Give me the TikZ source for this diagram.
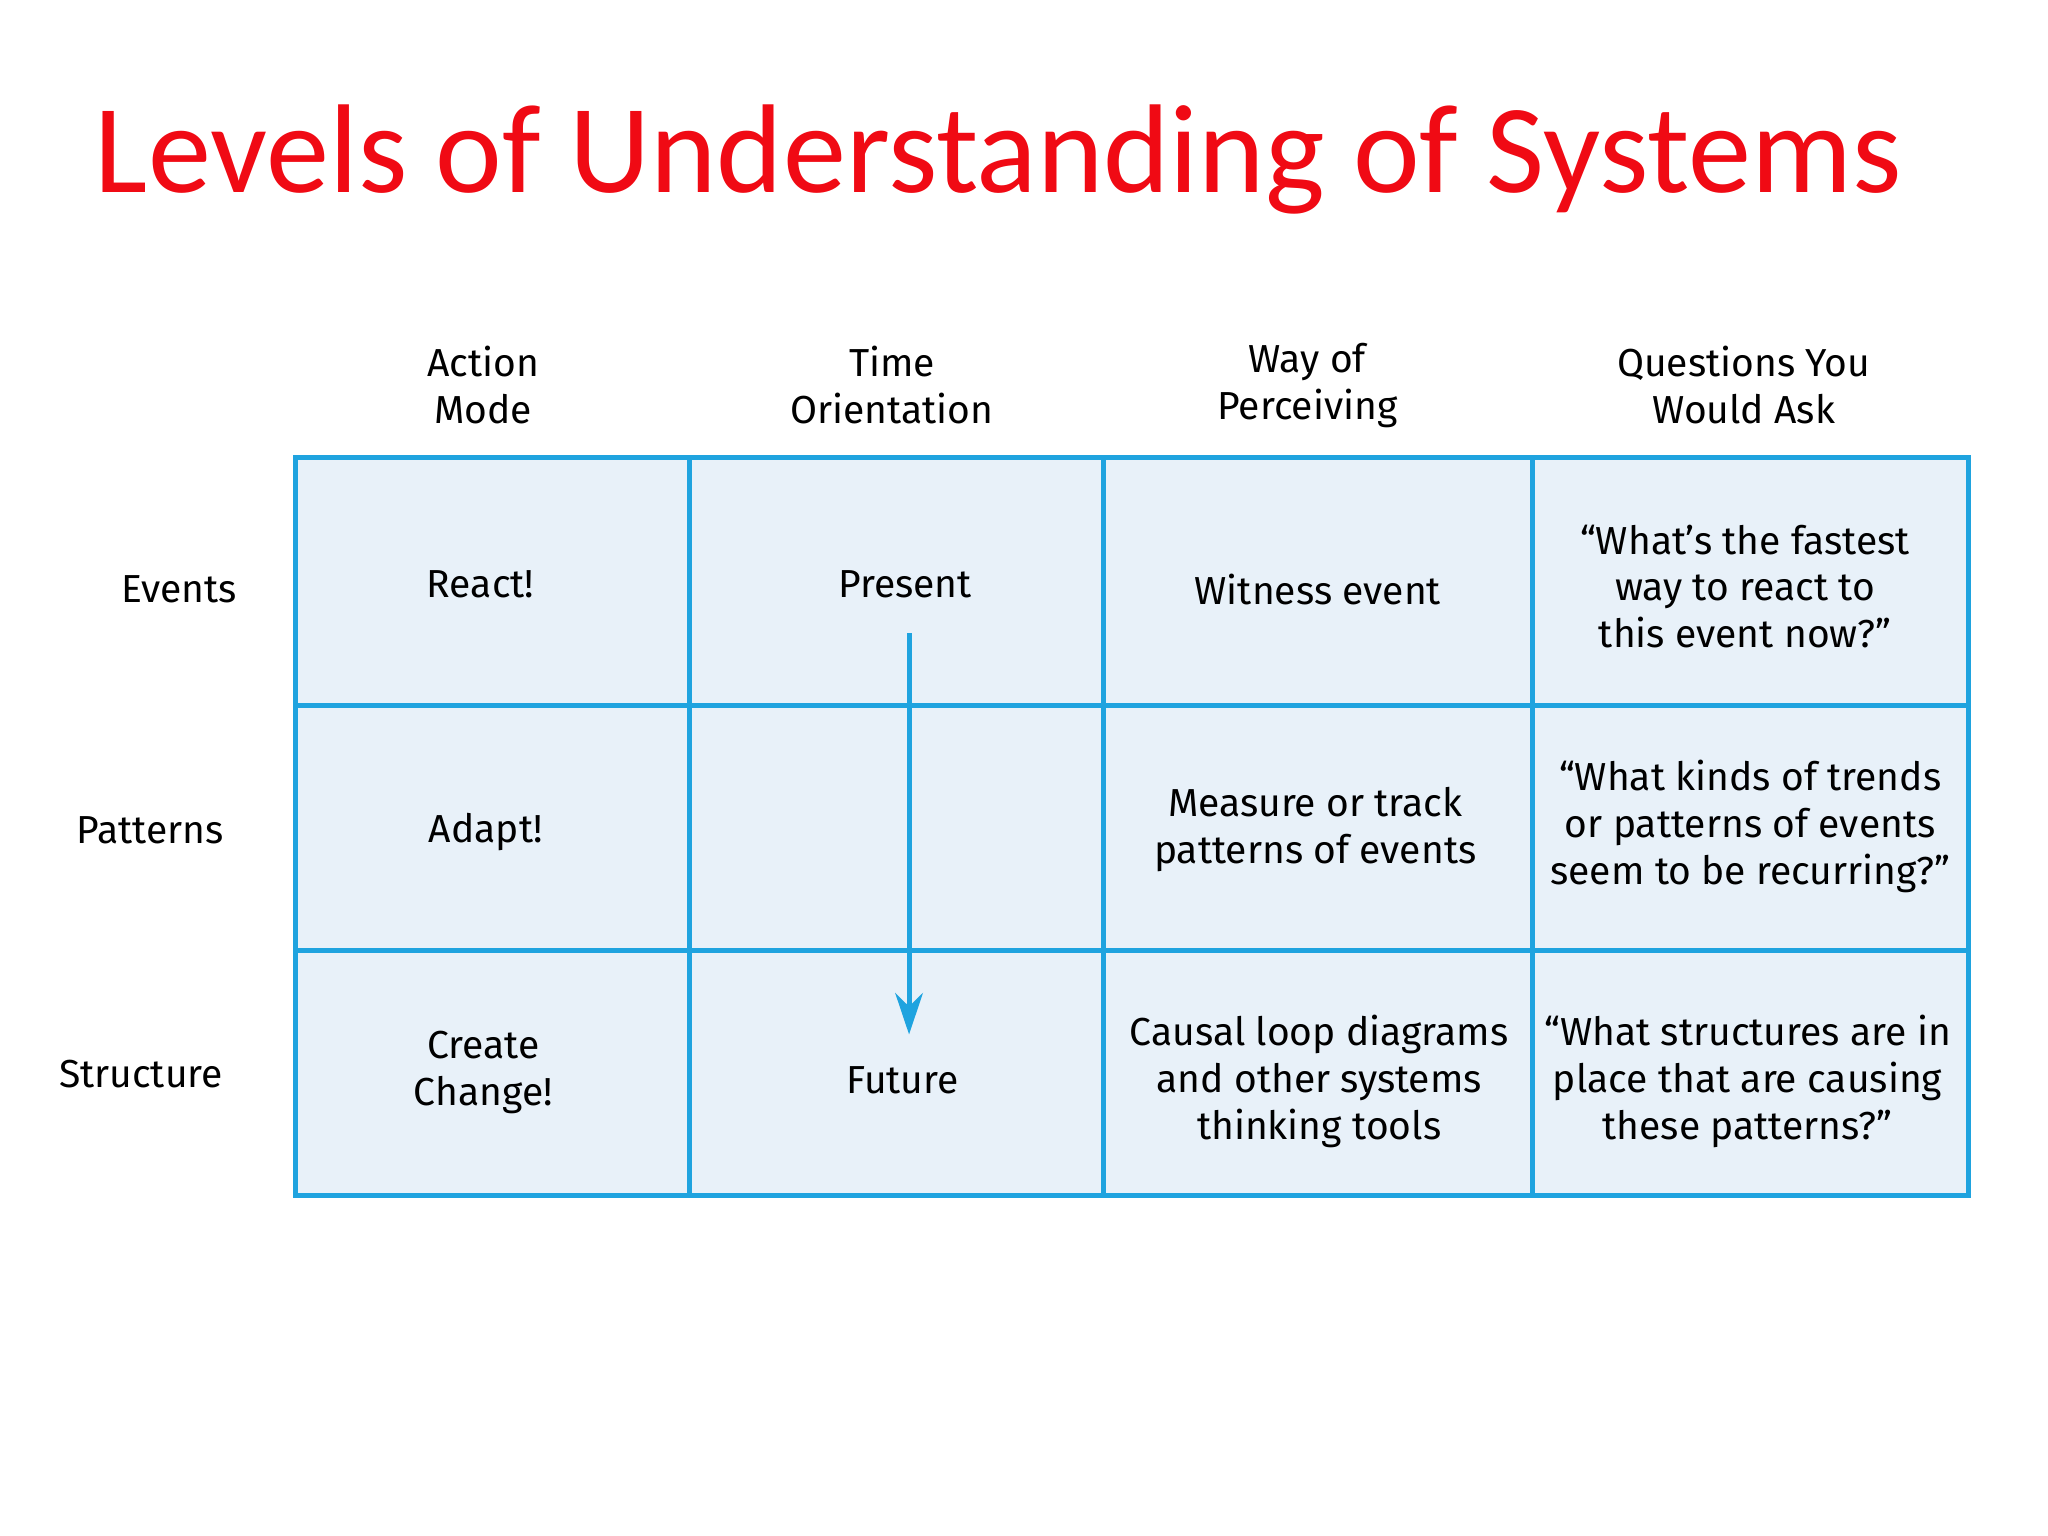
\documentclass[tikz,border=0pt]{standalone}
\usepackage{fontspec}
\setmainfont{Carlito}
\newfontfamily\bodyf{Fira Sans}
\usetikzlibrary{arrows.meta}
\definecolor{gridc}{HTML}{1FA3DF}
\definecolor{cellc}{HTML}{E8F1F9}
\definecolor{titlec}{HTML}{F00A14}
\begin{document}
\begin{tikzpicture}[x=0.01cm,y=-0.01cm,
  txt/.style={font=\bodyf\fontsize{8.5}{10.2}\selectfont,align=center,text=black},
  grid/.style={draw=gridc,line width=1.1pt}]
\useasboundingbox[fill=white] (0,0) rectangle (1568,1176);
\node[text=titlec,font=\fontsize{27.5}{30}\selectfont,anchor=west,inner sep=0pt] (title) at (72,122) {Levels of Understanding of Systems};
\fill[cellc] (226,350) rectangle (1507,915);
\draw[grid] (226,350) rectangle (1507,915);
\foreach \x in {528,845,1173} \draw[grid] (\x,350) -- (\x,915);
\foreach \y in {540,728} \draw[grid] (226,\y) -- (1507,\y);
\node[txt] (h1) at (370,295) {Action\\Mode};
\node[txt] (h2) at (683,295) {Time\\Orientation};
\node[txt] (h3) at (1001,295) {Way of\\Perceiving};
\node[txt] (h4) at (1335,295) {Questions You\\Would Ask};
\node[txt] (r1) at (137,451) {Events};
\node[txt] (r2) at (115,636) {Patterns};
\node[txt] (r3) at (108,822) {Structure};
\node[txt] (c11) at (368,447) {React!};
\node[txt] (c12) at (693,447) {Present};
\node[txt] (c13) at (1009,451) {Witness event};
\node[txt] (c14) at (1336,449) {“What’s the fastest\\way to react to\\this event now?”};
\node[txt] (c21) at (372,637) {Adapt!};
\node[txt] (c23) at (1007,635) {Measure or track\\patterns of events};
\node[txt] (c24) at (1340,633) {“What kinds of trends\\or patterns of events\\seem to be recurring?”};
\node[txt] (c31) at (370,821) {Create\\Change!};
\node[txt] (c32) at (691,827) {Future};
\node[txt] (c33) at (1010,828) {Causal loop diagrams\\and other systems\\thinking tools};
\node[txt] (c34) at (1338,828) {“What structures are in\\place that are causing\\these patterns?”};
\coordinate (a1) at (696,485);
\coordinate (a2) at (696,792);
\draw[draw=gridc,line width=1.1pt,-{Stealth[length=9pt,width=6pt]}] (a1) -- (a2);
\end{tikzpicture}
\end{document}
